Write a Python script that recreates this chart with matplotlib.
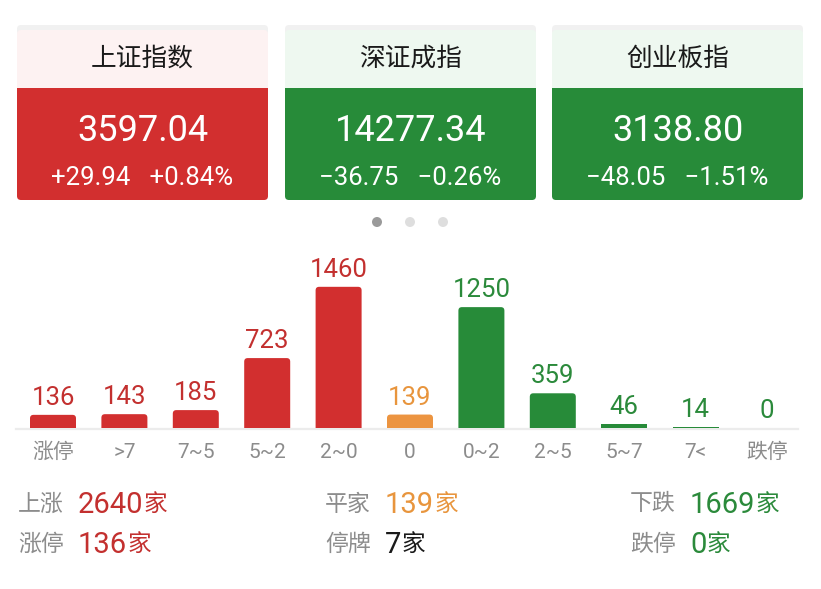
import matplotlib
matplotlib.use("Agg")
import matplotlib.pyplot as plt
from matplotlib.patches import FancyBboxPatch, Rectangle, Circle

# ---------------- data ----------------
index_names = ["上证指数", "深证成指", "创业板指"]
index_values = ["3597.04", "14277.34", "3138.80"]
index_changes = ["+29.94", "−36.75", "−48.05"]
index_pcts = ["+0.84%", "−0.26%", "−1.51%"]
index_up = [True, False, False]

categories = ["涨停", ">7", "7~5", "5~2", "2~0", "0", "0~2", "2~5", "5~7", "7<", "跌停"]
counts = [136, 143, 185, 723, 1460, 139, 1250, 359, 46, 14, 0]
groups = ["up", "up", "up", "up", "up", "flat", "down", "down", "down", "down", "down"]

summary_labels = [["上涨", "平家", "下跌"], ["涨停", "停牌", "跌停"]]
summary_numbers = [["2640", "139", "1669"], ["136", "7", "0"]]
summary_unit = "家"
summary_groups = [["up", "flat", "down"], ["up", "none", "down"]]

# ---------------- style ----------------
RED = "#d22f2f"
GREEN = "#278b39"
ORANGE = "#ec9440"
RED_T = "#c3302f"
GREEN_T = "#2b8a3b"
ORANGE_T = "#e8953d"
GRAY_T = "#8c8c8c"
bar_colors = {"up": RED, "flat": ORANGE, "down": GREEN}
text_colors = {"up": RED_T, "flat": ORANGE_T, "down": GREEN_T, "none": "#1a1a1a"}

NUMF = ["Roboto", "Noto Sans CJK SC", "DejaVu Sans"]
CJKF = ["Noto Sans CJK SC", "DejaVu Sans"]

W, H = 821, 589
fig = plt.figure(figsize=(W / 100, H / 100), dpi=100)
fig.patch.set_facecolor("white")
renderer = fig.canvas.get_renderer()

# overlay axes in pixel coordinates
ov = fig.add_axes([0, 0, 1, 1])
ov.set_xlim(0, W)
ov.set_ylim(H, 0)
ov.axis("off")

# ---------------- cards ----------------
card_lefts = [17, 285, 552]
card_w = 251
top, mid, bot = 30, 88, 200
for i in range(3):
    x0 = card_lefts[i]
    body = RED if index_up[i] else GREEN
    head = "#fdf2f2" if index_up[i] else "#eef8f0"
    ov.add_patch(FancyBboxPatch((x0, top - 5), card_w, 10,
                                boxstyle="round,pad=0,rounding_size=4",
                                fc="#f1f1f1", ec="none", zorder=1))
    ov.add_patch(FancyBboxPatch((x0, top), card_w, bot - top,
                                boxstyle="round,pad=0,rounding_size=4",
                                fc=head, ec="none", zorder=2))
    ov.add_patch(FancyBboxPatch((x0, mid), card_w, bot - mid,
                                boxstyle="round,pad=0,rounding_size=4",
                                fc=body, ec="none", zorder=3))
    ov.add_patch(Rectangle((x0, mid), card_w, 10, fc=body, ec="none", zorder=3))
    cx = x0 + card_w / 2
    ov.text(cx, 59, index_names[i], family=CJKF, fontsize=18.5, weight="medium",
            color="#1a1a1a", ha="center", va="center", zorder=5)
    ov.text(cx, 131, index_values[i], family=NUMF, fontsize=26, color="white",
            ha="center", va="center", zorder=5)
    ov.text(cx, 178, index_changes[i] + "   " + index_pcts[i], family=NUMF,
            fontsize=18.5, color="white", ha="center", va="center", zorder=5)

# pager dots
for x, c in zip([377, 410, 443], ["#9a9a9a", "#dedede", "#dedede"]):
    ov.add_patch(Circle((x, 222), 5, fc=c, ec="none"))

# baseline
ov.plot([16, 798], [428.5, 428.5], color="#ececec", lw=1.6, zorder=1)

# ---------------- bar chart ----------------
slot = 71.4
left_px = 53 - slot / 2
base_px = 428
top_px = 260
scale = 0.0967  # px per unit
ymax = (base_px - top_px) / scale
ax = fig.add_axes([left_px / W, (H - base_px) / H, slot * 11 / W, (base_px - top_px) / H])
ax.set_xlim(-0.5, 10.5)
ax.set_ylim(0, ymax)
ax.axis("off")
ax.patch.set_alpha(0)

bw = 46 / slot
r_px = 3.5
aspect = slot / scale          # y-units per x-unit at equal pixel size
below = 2 * r_px / scale       # extend below baseline; clipped by the axes
xs = list(range(len(categories)))
bars = ax.bar(xs, counts, width=bw, color=[bar_colors[g] for g in groups], zorder=3)
for b, v, g in zip(bars, counts, groups):
    if v * scale > 3 * r_px:
        b.set_visible(False)
        ax.add_patch(FancyBboxPatch((b.get_x(), -below), bw, v + below,
                                    boxstyle="round,pad=0,rounding_size=%f" % (r_px / slot),
                                    mutation_aspect=aspect, fc=bar_colors[g], ec="none",
                                    zorder=3))
for x, v, g in zip(xs, counts, groups):
    ax.annotate(str(v), (x, v), xytext=(0, 3.5), textcoords="offset points",
                ha="center", va="bottom", family=NUMF, fontsize=18.5,
                color=text_colors[g])
for x, lab in zip(xs, categories):
    ax.annotate(lab, (x, 0), xytext=(0, -17.5), textcoords="offset points",
                ha="center", va="center", family=NUMF, fontsize=15,
                color=GRAY_T, annotation_clip=False)

# ---------------- summary ----------------
col_x = [18, 325, 630]
val_dx = 60
row_y = [504, 544]
for r in range(2):
    for c in range(3):
        ov.text(col_x[c], row_y[r], summary_labels[r][c], family=CJKF, fontsize=16.5,
                color=GRAY_T, ha="left", va="center")
        col = text_colors[summary_groups[r][c]]
        t = ov.text(col_x[c] + val_dx, row_y[r] + 1, summary_numbers[r][c], family=NUMF,
                    fontsize=21, color=col, ha="left", va="center")
        bb = t.get_window_extent(renderer=renderer)
        x_end = bb.x1  # pixels; overlay x equals pixels
        ov.text(x_end + 0.5, row_y[r], summary_unit, family=CJKF,
                fontsize=17, color=col, ha="left", va="center")

fig.savefig("out.png", dpi=100, facecolor="white")
